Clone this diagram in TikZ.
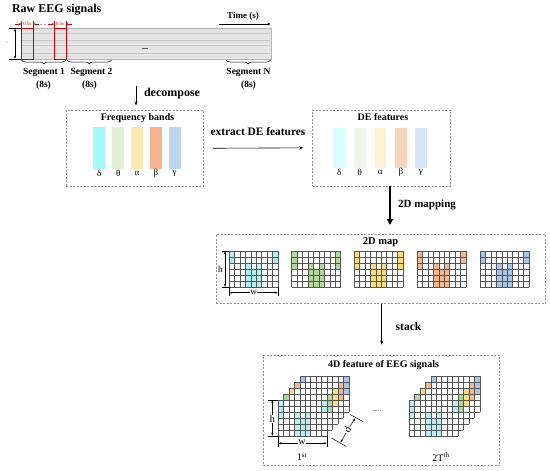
\documentclass[tikz,border=0pt]{standalone}
\usepackage{fontspec}
\setmainfont{Liberation Serif}
\usetikzlibrary{arrows.meta,decorations.pathreplacing}
\definecolor{fa}{HTML}{A2F7F9}
\definecolor{fb}{HTML}{E2EED8}
\definecolor{fc}{HTML}{FDE9AF}
\definecolor{fd}{HTML}{F4B690}
\definecolor{fe}{HTML}{BDD5EF}
\definecolor{da}{HTML}{D6FCFD}
\definecolor{db}{HTML}{EEF4EA}
\definecolor{dc}{HTML}{FEF2D3}
\definecolor{dd}{HTML}{F8D3BE}
\definecolor{de}{HTML}{D7E5F5}
\definecolor{ma}{HTML}{B2F0F2}
\definecolor{mb}{HTML}{B3D69C}
\definecolor{mc}{HTML}{FCDD78}
\definecolor{md}{HTML}{F4B78F}
\definecolor{me}{HTML}{A9C6EA}
\definecolor{boxgray}{HTML}{8C8C8C}
\definecolor{gridc}{HTML}{555555}
\definecolor{eegfill}{HTML}{E6E6E6}
\tikzset{
  dbox/.style={draw=boxgray, dashed, dash pattern=on 2pt off 1.5pt, line width=0.6pt, inner sep=0pt},
  ttl/.style={font=\bfseries\fontsize{10}{12}\selectfont, inner sep=0pt},
  big/.style={font=\bfseries\fontsize{12}{14}\selectfont, inner sep=0pt},
  seg/.style={font=\bfseries\fontsize{9.5}{11}\selectfont, inner sep=0pt},
  grk/.style={font=\fontsize{9}{11}\selectfont, inner sep=0pt},
  dimlbl/.style={font=\fontsize{9}{10}\selectfont, inner sep=0.6pt, fill=white},
  arr/.style={line width=0.6pt, -{Stealth[length=4pt,width=3pt]}},
  thickarr/.style={line width=1.3pt, -{Triangle[length=6pt,width=6pt]}},
  dimarr/.style={line width=0.5pt, {Stealth[length=3pt,width=2.2pt]}-{Stealth[length=3pt,width=2.2pt]}},
  gline/.style={gridc, line width=0.45pt},
  redl/.style={red!85!black, line width=0.5pt}
}
\newcommand\eegmap[5]{%
\begin{scope}[shift={({#1},{#2})}]
\fill[white] (0,0) rectangle (49,36);
\foreach \jj in {1,...,#4}{\fill[#3] (0,{(\jj-1)*6}) rectangle (5.444,{\jj*6});}
\foreach \jj in {1,...,#5}{\fill[#3] (43.556,{(\jj-1)*6}) rectangle (49,{\jj*6});}
\foreach \jj in {3,...,6}{\fill[#3] (16.333,{(\jj-1)*6}) rectangle (21.778,{\jj*6});
  \fill[#3] (27.222,{(\jj-1)*6}) rectangle (32.667,{\jj*6});}
\foreach \jj in {4,...,6}{\fill[#3] (21.778,{(\jj-1)*6}) rectangle (27.222,{\jj*6});}
\foreach \ii in {0,...,9}{\draw[gline] ({\ii*5.4444},0) -- ({\ii*5.4444},36);}
\foreach \jj in {0,...,6}{\draw[gline] (0,{\jj*6}) -- (49,{\jj*6});}
\end{scope}}
\newcommand\eegstack[2]{%
\eegmap{#1+21.778}{#2-24}{me}{3}{3}
\eegmap{#1+16.333}{#2-18}{md}{3}{3}
\eegmap{#1+10.889}{#2-12}{mc}{3}{3}
\eegmap{#1+5.444}{#2-6}{mb}{3}{3}
\eegmap{#1}{#2}{ma}{3}{2}}
\begin{document}
\begin{tikzpicture}[x=1pt,y=-1pt]
\useasboundingbox (0,0) rectangle (550,471);
% ---------- raw EEG ----------
\node[big] (rawt) at (56.7,9.5) {Raw EEG signals};
\node[draw=gray!60, fill=eegfill, minimum width=249.7pt, minimum height=30.7pt, inner sep=0pt, anchor=north west] (eeg) at (21,28.3) {};
\foreach \yy in {33,40,45,53}{\draw[gray!45, line width=0.5pt] (21.5,\yy) -- (270.2,\yy);}
\foreach \yy in {30.5,36.5,42.5,49,56.5}{\draw[gray!25, line width=0.3pt] (21.5,\yy) -- (270.2,\yy);}
\draw[gray!75!black, line width=0.6pt] (142,48.5) -- (148,48.5);
\draw[gray!70!black, line width=0.8pt] (21.3,28.3) -- (21.3,59);
% left dimension
\draw[line width=0.5pt] (9,28.3) -- (21,28.3);
\draw[line width=0.5pt] (9,59) -- (21,59);
\draw[dimarr, line width=0.8pt] (15,28.6) -- (15,58.7);
\node[font=\fontsize{4}{4}\selectfont, text=gray, inner sep=0pt] (cl) at (7,43) {c};
% red segments
\draw[redl] (21.3,28.3) rectangle (33.3,59);
\draw[redl] (54,28.3) rectangle (66,59);
\draw[redl] (21.3,21) -- (21.3,28.3);
\draw[redl] (33.3,21) -- (33.3,28.3);
\draw[redl] (54,21) -- (54,28.3);
\draw[redl] (66,21) -- (66,28.3);
\draw[redl, -{Stealth[length=2.2pt,width=2pt]}] (15,24) -- (21.3,24);
\draw[redl, -{Stealth[length=2.2pt,width=2pt]}] (39,24) -- (33.3,24);
\draw[redl, -{Stealth[length=2.2pt,width=2pt]}] (48,24) -- (54,24);
\draw[redl, -{Stealth[length=2.2pt,width=2pt]}] (72,24) -- (66,24);
\draw[gray!70, dashed, dash pattern=on 2pt off 2pt, line width=0.4pt] (40,24) -- (47,24);
\node[font=\fontsize{4.8}{5}\selectfont, text=red!60!black, inner sep=0pt] (h1) at (27.3,24) {0.5s};
\node[font=\fontsize{4.8}{5}\selectfont, text=red!60!black, inner sep=0pt] (h2) at (60,24) {0.5s};
% time
\node[font=\bfseries\fontsize{9}{11}\selectfont, inner sep=0pt] (time) at (243,16) {Time (s)};
\coordinate (t0) at (219,24);
\coordinate (t1) at (270.7,24);
\draw[line width=0.5pt, -{Stealth[length=3.5pt,width=2.6pt]}] (t0) -- (t1);
% braces
\draw[line width=0.5pt, decorate, decoration={brace, amplitude=4pt, mirror}] (21.5,60) -- (66,60);
\draw[line width=0.5pt, decorate, decoration={brace, amplitude=4pt, mirror}] (67,60) -- (111.5,60);
\draw[line width=0.5pt, decorate, decoration={brace, amplitude=4pt, mirror}] (226,60) -- (270.5,60);
\node[seg] (s1) at (44,72) {Segment 1};
\node[seg] (s1b) at (43.5,85.5) {(8s)};
\node[seg] (s2) at (91.5,72) {Segment 2};
\node[seg] (s2b) at (89.5,85.5) {(8s)};
\node[seg] (sn) at (248.5,72) {Segment N};
\node[seg] (snb) at (248.5,85.5) {(8s)};
% ---------- frequency bands ----------
\node[dbox, minimum width=137pt, minimum height=76pt, anchor=north west] (fbox) at (66,110) {};
\node[ttl] (fbt) at (137.5,118.5) {Frequency bands};
\foreach \cc/\xx/\gg in {fa/93.3/δ, fb/112.3/θ, fc/131/α, fd/150/β, fe/168.7/γ}{
  \fill[\cc] (\xx,127.3) rectangle ({\xx+12},169);
  \node[grk] at ({\xx+6},173) {\gg};
}
% ---------- DE features ----------
\node[dbox, minimum width=137.7pt, minimum height=76pt, anchor=north west] (debox) at (312.3,109.5) {};
\node[ttl] (det) at (383,117.5) {DE features};
\foreach \cc/\xx/\gg in {da/333.3/δ, db/354/θ, dc/374.5/α, dd/395/β, de/415/γ}{
  \fill[\cc] (\xx,127.7) rectangle ({\xx+11.7},168.3);
  \node[grk] at ({\xx+5.85},172.5) {\gg};
}
% decompose arrow
\coordinate (dtop) at (136,86);
\draw[arr, shorten >=4.5pt] (dtop) -- (dtop |- fbox.north);
\node[big] (decl) at (172,94) {decompose};
% extract arrow
\draw[arr, shorten <=9.5pt, shorten >=9pt] (fbox.east) -- (debox.west);
\node[font=\bfseries\fontsize{11.4}{13}\selectfont, inner sep=0pt] (exl) at (258,131.5) {extract DE features};
% ---------- 2D map ----------
\node[dbox, minimum width=329pt, minimum height=69.3pt, anchor=north west] (mbox) at (216,234) {};
\node[font=\bfseries\fontsize{10.5}{12}\selectfont, inner sep=0pt] (mt) at (380.5,242.5) {2D map};
\eegmap{229}{251}{ma}{2}{2}
\eegmap{291.7}{251}{mb}{3}{3}
\eegmap{354}{251}{mc}{3}{3}
\eegmap{417}{251}{md}{3}{2}
\eegmap{480}{251}{me}{2}{2}
\draw[line width=0.5pt] (221.5,251) -- (229,251);
\draw[line width=0.5pt] (221.5,287) -- (229,287);
\draw[dimarr] (225,251.3) -- (225,286.7);
\node[font=\fontsize{9}{10}\selectfont, inner sep=0pt] (hl1) at (220.3,269) {h};
\draw[line width=0.5pt] (229,287) -- (229,296);
\draw[line width=0.5pt] (278,287) -- (278,296);
\draw[dimarr] (229.3,292.7) -- (277.7,292.7);
\node[dimlbl] (wl1) at (253.5,292) {w};
% 2D mapping arrow
\coordinate (m1) at (390,185.5);
\draw[thickarr, shorten >=9pt] (m1) -- (m1 |- mbox.north);
\node[font=\bfseries\fontsize{11}{13}\selectfont, inner sep=0pt] (mapl) at (427,205) {2D mapping};
% ---------- 4D ----------
\node[dbox, minimum width=236pt, minimum height=110.6pt, anchor=north west] (fdbox) at (263.3,354.7) {};
\node[ttl] (fdt) at (383.5,365) {4D feature of EEG signals};
\eegstack{278}{400}
\eegstack{409}{400}
% stack arrow
\coordinate (sa) at (381.7,303.5);
\draw[arr, shorten >=10pt] (sa) -- (sa |- fdbox.north);
\node[font=\bfseries\fontsize{11.5}{13}\selectfont, inner sep=0pt] (stl) at (408.5,326.5) {stack};
% dims in 4D
\draw[line width=0.5pt] (268,400) -- (278,400);
\draw[line width=0.5pt] (268,436) -- (278,436);
\draw[dimarr] (272.3,400.3) -- (272.3,435.7);
\node[dimlbl, font=\fontsize{10}{11}\selectfont] (hl2) at (272.3,419) {h};
\draw[line width=0.5pt] (278,436) -- (278,447);
\draw[line width=0.5pt] (327,436) -- (327,447);
\draw[dimarr] (278.3,443.3) -- (326.7,443.3);
\node[dimlbl, font=\fontsize{10}{11}\selectfont] (wl2) at (302,442.5) {w};
\draw[line width=0.5pt] (350,414.5) -- (363,421.5);
\draw[line width=0.5pt] (331.5,438) -- (346,446.5);
\draw[dimarr] (355,418.3) -- (340.5,442.3);
\node[dimlbl, font=\fontsize{10}{11}\selectfont, rotate=60] (dl) at (347.5,430) {d};
\draw[gray!80, line width=0.6pt, dashed, dash pattern=on 1.5pt off 0.8pt] (373,410) -- (382,410);
\node[font=\fontsize{10}{12}\selectfont, inner sep=0pt] (first) at (302,457) {1\textsuperscript{st}};
\node[font=\fontsize{10}{12}\selectfont, inner sep=0pt] (last) at (441,457) {2T\textsuperscript{th}};
\end{tikzpicture}
\end{document}
